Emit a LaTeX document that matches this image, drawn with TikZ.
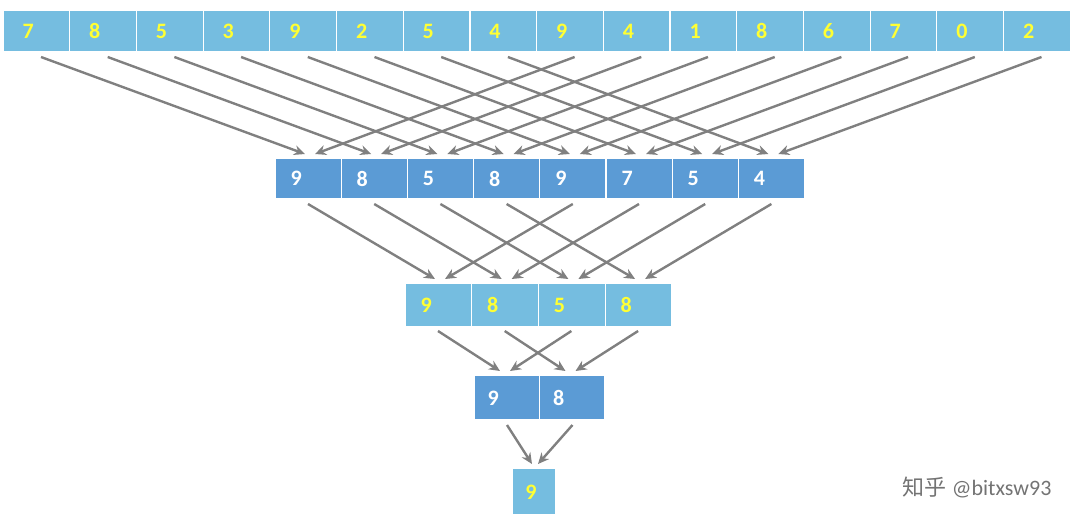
\documentclass[tikz,border=0pt]{standalone}
\usepackage{fontspec}
\setmainfont{Carlito}
\newfontfamily\cjk{Noto Sans CJK SC}
\usetikzlibrary{arrows.meta}
\definecolor{lb}{HTML}{75BDE0}
\definecolor{db}{HTML}{5B9BD5}
\definecolor{yl}{HTML}{FFFF33}
\definecolor{ar}{HTML}{808080}
\begin{document}
\begin{tikzpicture}[x=1pt,y=-1pt,
  cell/.style={draw=white,line width=1.2pt,minimum height=#1,inner sep=0pt,text width=1pt},
  light/.style={fill=lb,text=yl},
  dark/.style={fill=db,text=white},
  arr/.style={draw=ar,line width=2.4pt,-{Stealth[length=11pt,width=10pt]}}]
\useasboundingbox (0,0) rectangle (1080,531);
\tikzset{font=\bfseries\fontsize{22}{22}\selectfont}
% row 1
\foreach \v [count=\i from 0] in {7,8,5,3,9,2,5,4,9,4,1,8,6,7,0,2}{
  \path[light,draw=white,line width=1.2pt] (3+66.7*\i,10) rectangle ++(66.7,42);
  \node[anchor=west,text=yl] (a\i) at (3+66.7*\i+16,31) {\v};
  \coordinate (as\i) at (3+66.7*\i+38,57);}
% row 2
\foreach \v [count=\i from 0] in {9,8,5,8,9,7,5,4}{
  \path[dark,draw=white,line width=1.2pt] (275+66.2*\i,158) rectangle ++(66.2,41);
  \node[anchor=west,text=white] (b\i) at (275+66.2*\i+12,178.5) {\v};
  \coordinate (bl\i) at (275+66.2*\i+30,154);
  \coordinate (br\i) at (275+66.2*\i+40,154);
  \coordinate (bs\i) at (275+66.2*\i+33,204);}
% row 3
\foreach \v [count=\i from 0] in {9,8,5,8}{
  \path[light,draw=white,line width=1.2pt] (405+66.7*\i,283) rectangle ++(66.7,44);
  \node[anchor=west,text=yl] (c\i) at (405+66.7*\i+12,305) {\v};
  \coordinate (cl\i) at (405+66.7*\i+30,279);
  \coordinate (cr\i) at (405+66.7*\i+40,279);
  \coordinate (cs\i) at (405+66.7*\i+33,331);}
% row 4
\foreach \v [count=\i from 0] in {9,8}{
  \path[dark,draw=white,line width=1.2pt] (474+65.5*\i,375) rectangle ++(65.5,45);
  \node[anchor=west,text=white] (d\i) at (474+65.5*\i+10,398) {\v};
  \coordinate (dl\i) at (474+65.5*\i+26,371);
  \coordinate (dr\i) at (474+65.5*\i+36,371);
  \coordinate (ds\i) at (474+65.5*\i+33,425);}
% row 5
\path[light,draw=white,line width=1.2pt] (512,468) rectangle ++(44,47);
\node[text=yl] (e0) at (531,492) {9};
\coordinate (el) at (532,464);
\coordinate (er) at (538,464);
% arrows
\foreach \i in {0,...,7}{
  \pgfmathtruncatemacro\j{\i+8}
  \draw[arr] (as\i) -- (bl\i);
  \draw[arr] (as\j) -- (br\i);}
\foreach \i in {0,...,3}{
  \pgfmathtruncatemacro\j{\i+4}
  \draw[arr] (bs\i) -- (cl\i);
  \draw[arr] (bs\j) -- (cr\i);}
\foreach \i in {0,1}{
  \pgfmathtruncatemacro\j{\i+2}
  \draw[arr] (cs\i) -- (dl\i);
  \draw[arr] (cs\j) -- (dr\i);}
\draw[arr] (ds0) -- (el);
\draw[arr] (ds1) -- (er);
\node[anchor=east,text=black!55,font=\fontsize{22}{22}\selectfont] (wm) at (1055,487) {{\cjk 知乎} @bitxsw93};
\end{tikzpicture}
\end{document}
